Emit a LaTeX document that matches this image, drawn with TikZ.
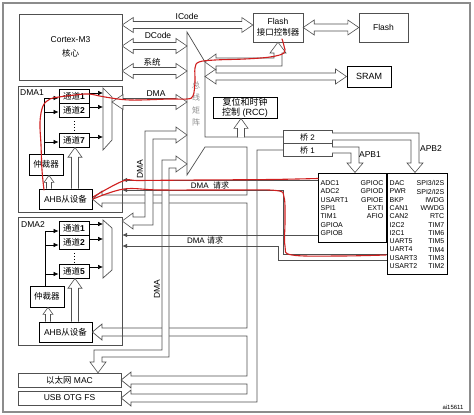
\documentclass[tikz,border=0pt]{standalone}
\usepackage{fontspec}
\setmainfont{Liberation Sans}
\newfontfamily\cjk{Noto Sans CJK SC}
\usetikzlibrary{calc,arrows.meta}
\definecolor{linec}{HTML}{505050}
\definecolor{redpen}{HTML}{D01E1E}

% double headed hollow bus between two points on one level
\newcommand{\hollowLR}[2]{%
  \path[hollow] let \p1=#1, \p2=#2 in
    (\x1,\y1) -- (\x1+11pt,\y1+7.5pt) -- (\x1+11pt,\y1+3.5pt) -- (\x2-11pt,\y1+3.5pt)
    -- (\x2-11pt,\y1+7.5pt) -- (\x2,\y1) -- (\x2-11pt,\y1-7.5pt) -- (\x2-11pt,\y1-3.5pt)
    -- (\x1+11pt,\y1-3.5pt) -- (\x1+11pt,\y1-7.5pt) -- cycle;}
% hollow bus pointing up: tip, tail, body half width, head half width
\newcommand{\hollowUp}[4]{%
  \path[hollow] let \p1=#1, \p2=#2 in
    (\x1-#3,\y2) -- (\x1-#3,\y1-1.4*#4) -- (\x1-#4,\y1-1.4*#4) -- (\x1,\y1)
    -- (\x1+#4,\y1-1.4*#4) -- (\x1+#3,\y1-1.4*#4) -- (\x1+#3,\y2);}

\begin{document}
\begin{tikzpicture}[x=1pt,y=-1pt,
    box/.style={draw=linec, fill=white, inner sep=0pt, align=center, font=\fontsize{8.5}{10.5}\selectfont},
    thickbox/.style={box, draw=black, line width=1pt},
    unit/.style={box, draw=black, line width=0.8pt},
    chan/.style={box, draw=black, line width=0.9pt, minimum width=30pt, minimum height=14pt},
    periph/.style={inner sep=0pt, font=\fontsize{7}{8.3}\selectfont},
    lab/.style={inner sep=0pt, font=\fontsize{8.5}{10}\selectfont},
    hollow/.style={draw=linec, fill=white, line width=0.6pt},
    sig/.style={draw=black, line width=0.6pt, -{Latex[length=5pt,width=4.5pt]}},
    req/.style={draw=linec, line width=0.7pt, -{Latex[length=5pt,width=4.5pt]}},
    pen/.style={draw=redpen, line width=1.1pt, line cap=round, line join=round}]
   \useasboundingbox (0,0) rectangle (474,415);
   \draw[black!45, line width=1.5pt] (3,3) rectangle (470,412);

   % blocks
   \node[box, minimum width=103pt, minimum height=66pt, font=\fontsize{8.5}{14}\selectfont] (cortex) at (70.5,47) {Cortex-M3\\{\cjk 核心}};
   \node[box, minimum width=50pt, minimum height=29pt] (flashif) at (278,27.5) {Flash\\{\cjk 接口控制器}};
   \node[box, minimum width=49pt, minimum height=29pt] (flash) at (383.5,27.5) {Flash};
   \node[thickbox, minimum width=44pt, minimum height=21pt, font=\fontsize{9}{10}\selectfont] (sram) at (369,76.5) {SRAM};
   \node[thickbox, minimum width=64pt, minimum height=21pt, font=\fontsize{9}{10.5}\selectfont] (rcc) at (245,107.5) {{\cjk 复位和时钟}\\{\cjk 控制} (RCC)};
   \node[box, minimum width=49pt, minimum height=13pt, font=\fontsize{8}{9}\selectfont] (bridge2) at (307.5,137) {{\cjk 桥} 2};
   \node[box, minimum width=49pt, minimum height=13pt, font=\fontsize{8}{9}\selectfont] (bridge1) at (307.5,150) {{\cjk 桥} 1};
   \node[thickbox, minimum width=68pt, minimum height=69pt] (apbone) at (352,207.5) {};
   \node[thickbox, minimum width=60pt, minimum height=101pt] (apbtwo) at (417,223.5) {};
   \node[box, minimum width=103pt, minimum height=14pt] (eth) at (69.5,380) {{\cjk 以太网} MAC};
   \node[box, minimum width=103pt, minimum height=14pt] (usb) at (69.5,398) {USB OTG FS};

   % peripherals
   \node[periph, align=left, anchor=north west] (apboneL) at (320.5,180.5) {ADC1\\ADC2\\USART1\\SPI1\\TIM1\\GPIOA\\GPIOB};
   \node[periph, align=right, anchor=north east] (apboneR) at (383.5,180.5) {GPIOC\\GPIOD\\GPIOE\\EXTI\\AFIO};
   \node[periph, align=left, anchor=north west] (apbtwoL) at (389.5,180.5) {DAC\\PWR\\BKP\\CAN1\\CAN2\\I2C2\\I2C1\\UART5\\UART4\\USART3\\USART2};
   \node[periph, align=right, anchor=north east] (apbtwoR) at (444.5,180.5) {SPI3/I2S\\SPI2/I2S\\IWDG\\WWDG\\RTC\\TIM7\\TIM6\\TIM5\\TIM4\\TIM3\\TIM2};

   % DMA1
   \node[box, minimum width=104pt, minimum height=126pt] (dma1) at (70,149) {};
   \node[lab] (dma1lab) at (32,93) {DMA1};
   \node[chan] (dma1ch1) at (74,96) {{\cjk 通道}\textbf{1}};
   \node[chan] (dma1ch2) at (74,110) {{\cjk 通道}\textbf{2}};
   \node[chan] (dma1ch7) at (74,140) {{\cjk 通道}\textbf{7}};
   \node[unit, minimum width=34pt, minimum height=21pt] (arb1) at (46,164.5) {\cjk 仲裁器};
   \node[unit, minimum width=53pt, minimum height=20pt] (ahb1) at (65.5,199) {AHB{\cjk 从设备}};
   \draw[linec, fill=white, line width=0.7pt] (103,88) -- (112,97) -- (112,140) -- (103,150) -- cycle;
   \coordinate (mux1in) at (103,119);
   \coordinate (mux1out) at (112,119);
   \draw[black, dotted, line width=0.9pt] (74,121) -- (74,131);

   % DMA2
   \node[box, minimum width=104pt, minimum height=128pt] (dma2) at (70,281) {};
   \node[lab] (dma2lab) at (33,225) {DMA2};
   \node[chan] (dma2ch1) at (74,228) {{\cjk 通道}\textbf{1}};
   \node[chan] (dma2ch2) at (74,242) {{\cjk 通道}\textbf{2}};
   \node[chan] (dma2ch5) at (74,271) {{\cjk 通道}\textbf{5}};
   \node[unit, minimum width=34pt, minimum height=21pt] (arb2) at (47,296.5) {\cjk 仲裁器};
   \node[unit, minimum width=53pt, minimum height=20pt] (ahb2) at (65.5,332) {AHB{\cjk 从设备}};
   \draw[linec, fill=white, line width=0.7pt] (103,220) -- (112,228) -- (112,270) -- (103,278) -- cycle;
   \coordinate (mux2in) at (103,249);
   \draw[black, dotted, line width=0.9pt] (74,253) -- (74,262);

   % bus matrix and AHB trunk
   \coordinate (bmL) at (187,100);
   \coordinate (bmR) at (205,100);
   \draw[linec, line width=0.7pt] (bridge2.west) -- (205,137) -- (205,62) -- (187,32) -- (187,175) -- (205,147)
      -- (247,147) -- (247,195) -- (102,195) -- (102,191) -- (ahb1.east) -- (102,207) -- (102,203)
      -- (247,203) -- (247,328) -- (102,328) -- (102,324) -- (ahb2.east) -- (102,340) -- (102,336)
      -- (247,336) -- (247,376) -- (131,376) -- (131,372) -- (eth.east) -- (131,388) -- (131,384)
      -- (247,384) -- (247,394) -- (131,394) -- (131,390) -- (usb.east) -- (131,406) -- (131,402)
      -- (257,402) -- (257,150) -- (bridge1.west);
   \node[lab, text=black!45, align=center, font=\cjk\fontsize{8}{12.5}\selectfont] (busmx) at (196,104) {总\\线\\矩\\阵};

   % buses
   \hollowLR{(cortex.east |- 0,25)}{(flashif.west |- 0,25)}
   \hollowLR{(cortex.east |- 0,46)}{(bmL |- 0,46)}
   \hollowLR{(cortex.east |- 0,71)}{(bmL |- 0,71)}
   \hollowLR{(mux1out |- 0,102)}{(bmL |- 0,102)}
   \hollowLR{(flashif.east)}{(flash.west)}
   \hollowLR{(bmR |- sram.west)}{(sram.west)}
   \path[hollow] (bmR |- 0,62) -- (216,54) -- (216,58) -- (274,58) -- (274,53) -- (270,53) -- (flashif.south)
      -- (286,53) -- (282,53) -- (282,66) -- (216,66) -- (216,70) -- cycle;
   \hollowUp{(rcc.south -| 241,0)}{(241,137.4)}{3.5pt}{7pt}
   \path[hollow] (bridge1.east |- 0,147) -- (359,147) -- (359,163) -- (363,163) -- (apbone.north -| 355,0)
      -- (347,163) -- (351,163) -- (351,153) -- (bridge1.east |- 0,153);
   \path[hollow] (bridge2.east |- 0,133) -- (419,133) -- (419,163) -- (423,163) -- (apbtwo.north -| 415,0)
      -- (407,163) -- (411,163) -- (411,140) -- (bridge2.east |- 0,140);
   \path[hollow] (dma2.east |- 0,221) -- (133,213) -- (133,217) -- (145,217) -- (145,131) -- (176,131)
      -- (176,127) -- (bmL |- 0,135) -- (176,143) -- (176,139) -- (153,139) -- (153,225) -- (133,225)
      -- (133,229) -- cycle;
   \path[hollow] (bmL |- 0,164) -- (176,156) -- (176,160) -- (162,160) -- (162,350) -- (94,350) -- (94,362)
      -- (90,362) -- (eth.north -| 98,0) -- (106,362) -- (102,362) -- (102,357) -- (169,357) -- (169,168)
      -- (176,168) -- (176,172) -- cycle;
   \hollowUp{(dma1ch7.south -| 75,0)}{(ahb1.north)}{3.5pt}{7pt}
   \hollowUp{(arb1.south -| 49,0)}{(ahb1.north)}{2.5pt}{5pt}
   \hollowUp{(dma2ch5.south -| 75,0)}{(ahb2.north)}{3.5pt}{7pt}
   \hollowUp{(arb2.south -| 48,0)}{(ahb2.north)}{2.5pt}{5pt}

   % channel signals
   \draw[sig] (arb1.north -| 44,0) -- (44,98) -- (dma1ch1.west |- 0,98);
   \draw[sig] (44,112) -- (dma1ch2.west |- 0,112);
   \draw[sig] (44,142) -- (dma1ch7.west |- 0,142);
   \draw[sig] (dma1ch1.east |- 0,93) -- (mux1in |- 0,93);
   \draw[sig] (dma1ch2.east |- 0,107) -- (mux1in |- 0,107);
   \draw[sig] (dma1ch7.east |- 0,137) -- (mux1in |- 0,137);
   \draw[sig] (arb2.north -| 45,0) -- (45,231) -- (dma2ch1.west |- 0,231);
   \draw[sig] (45,245) -- (dma2ch2.west |- 0,245);
   \draw[sig] (45,274) -- (dma2ch5.west |- 0,274);
   \draw[sig] (dma2ch1.east |- 0,224) -- (mux2in |- 0,224);
   \draw[sig] (dma2ch2.east |- 0,239) -- (mux2in |- 0,239);
   \draw[sig] (dma2ch5.east |- 0,267) -- (mux2in |- 0,267);

   % DMA requests
   \draw[req] (apbone.west |- 0,180) -- (dma1.east |- 0,180);
   \draw[req] (apbtwo.west |- 0,254) -- (283,254) -- (283,190) -- (dma1.east |- 0,190);
   \draw[req] (apbone.west |- 0,235) -- (dma2.east |- 0,235);
   \draw[req] (apbtwo.west |- 0,260) -- (278,260) -- (278,246) -- (dma2.east |- 0,246);

   % labels
   \node[lab] (icode) at (187,16) {ICode};
   \node[lab] (dcode) at (158,35) {DCode};
   \node[lab] (xitong) at (152,62) {\cjk 系统};
   \node[lab] (dmabus) at (156,94) {DMA};
   \node[lab, rotate=90] (dmaup) at (140,169) {DMA};
   \node[lab, rotate=90] (dmaeth) at (157,289) {DMA};
   \node[lab, font=\fontsize{8}{9}\selectfont] (req1) at (210,185) {DMA\ \ {\cjk 请求}};
   \node[lab, font=\fontsize{8}{9}\selectfont] (req2) at (205,240) {DMA {\cjk 请求}};
   \node[lab] (apb1lab) at (370,155) {APB1};
   \node[lab] (apb2lab) at (431,149) {APB2};
   \node[lab, font=\fontsize{6}{7}\selectfont] (figno) at (453,407) {ai15611};

   % red pen
   \draw[pen] plot[smooth, tension=0.6] coordinates {(386,255) (340,256) (292,255) (285,246) (285,220) (284,197) (276,190.5) (230,190) (160,190) (124,189) (93,199)};
   \draw[pen] plot[smooth, tension=0.6] coordinates {(318,178.5) (270,179.5) (200,180) (140,180.5) (123,181) (93,197)};
   \draw[pen] plot[smooth, tension=0.6] coordinates {(44,190) (42,170) (41,145) (40,122) (43,106) (50,99) (59,97) (75,95) (89,94) (105,97) (130,100) (170,99) (187,99) (193,96) (195,82) (195,68) (199,62) (215,60) (245,59) (270,57) (284,53) (284,46) (282,39)};
 \end{tikzpicture}
\end{document}
